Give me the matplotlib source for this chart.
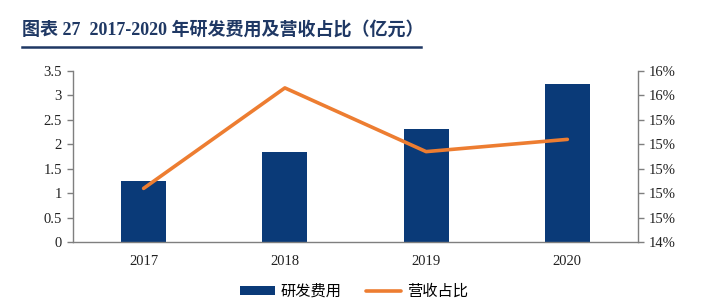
import matplotlib.pyplot as plt
from matplotlib.ticker import FixedLocator, FuncFormatter

plt.rcParams['font.family'] = ['Liberation Serif', 'Noto Sans CJK SC']

years = ['2017', '2018', '2019', '2020']
rd_cost = [1.25, 1.85, 2.31, 3.24]          # 研发费用 (亿元)
rev_ratio = [14.84, 15.66, 15.14, 15.24]     # 营收占比 (%)

left_ticks = [0, 0.5, 1, 1.5, 2, 2.5, 3, 3.5]
right_ticks = [14.4, 14.6, 14.8, 15.0, 15.2, 15.4, 15.6, 15.8]

bar_color = '#0A3A78'
line_color = '#ED7D31'
axis_color = '#7F7F7F'
title_color = '#1F3864'

fig = plt.figure(figsize=(7.08, 3.02), dpi=100)
ax = fig.add_axes([0.1031, 0.1977, 0.798, 0.568])
ax2 = ax.twinx()

x = range(len(years))
bars = ax.bar(x, rd_cost, width=0.32, color=bar_color, zorder=2, label='研发费用')
line, = ax2.plot(x, rev_ratio, color=line_color, lw=2.6, solid_capstyle='round',
                 zorder=3, label='营收占比')

ax.set_xlim(-0.5, 3.5)
ax.set_ylim(0, 3.5)
ax2.set_ylim(14.4, 15.8)
ax.yaxis.set_major_locator(FixedLocator(left_ticks))
ax2.yaxis.set_major_locator(FixedLocator(right_ticks))
ax.yaxis.set_major_formatter(FuncFormatter(lambda v, p: f'{v:g}'))
ax2.yaxis.set_major_formatter(FuncFormatter(lambda v, p: f'{v:.0f}%'))
ax.set_xticks(list(x))
ax.set_xticklabels(years)

for a in (ax, ax2):
    a.spines['top'].set_visible(False)
    for s in a.spines.values():
        s.set_color(axis_color)
        s.set_linewidth(1.0)
    a.tick_params(axis='y', colors=axis_color, labelcolor='#222222',
                  labelsize=10.5, length=4, width=1.0, direction='out', pad=4)
ax.tick_params(axis='x', length=0, labelsize=10.5, labelcolor='#222222', pad=9)
ax2.spines['left'].set_visible(False)
ax2.spines['bottom'].set_visible(False)
ax.spines['right'].set_visible(False)

# title with underline
fig.text(0.031, 0.885, '图表 27  2017-2020 年研发费用及营收占比（亿元）',
         fontsize=13, fontweight='bold', color=title_color, va='baseline')
fig.add_artist(plt.Line2D([0.031, 0.595], [0.845, 0.845], color=title_color,
                          lw=1.8, transform=fig.transFigure))

fig.legend(handles=[bars, line], loc='center', bbox_to_anchor=(0.5, 0.035),
           ncol=2, frameon=False, handlelength=2.3,
           handleheight=0.55, columnspacing=1.6, handletextpad=0.4,
           prop={'family': ['Noto Sans CJK SC'], 'size': 11})

fig.savefig('out.png', dpi=100)
